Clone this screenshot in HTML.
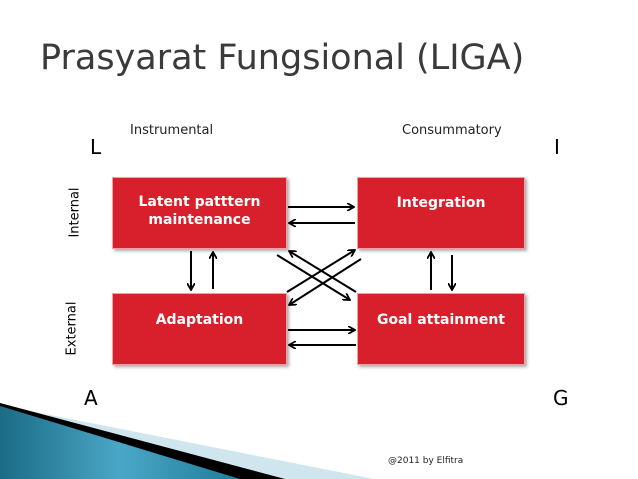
<!DOCTYPE html>
<html><head><style>
body{margin:0;width:638px;height:479px;background:#fff;position:relative;overflow:hidden;font-family:"DejaVu Sans","Liberation Sans",sans-serif}
.t{position:absolute;white-space:nowrap}
.box{position:absolute;background:#d7202c;border:1px solid #f2a0a0;box-shadow:2px 2px 3px #aaa;color:#fff;font-weight:bold;font-size:14px;text-align:center;line-height:18px;box-sizing:border-box;padding-top:16px}
</style></head><body>
<div class="t" style="left:40px;top:38px;font-size:35px;color:#3a3a3a">Prasyarat Fungsional (LIGA)</div>
<div class="t" style="left:130px;top:123px;font-size:13px;color:#222">Instrumental</div>
<div class="t" style="left:402px;top:123px;font-size:13px;color:#222">Consummatory</div>
<div class="t" style="left:90px;top:135px;font-size:20px">L</div>
<div class="t" style="left:554px;top:135px;font-size:20px">I</div>
<div class="t" style="left:84px;top:386px;font-size:20px">A</div>
<div class="t" style="left:553px;top:386px;font-size:20px">G</div>
<div class="t" style="left:50px;top:205px;font-size:13px;transform:rotate(-90deg)">Internal</div>
<div class="t" style="left:45px;top:321px;font-size:13px;transform:rotate(-90deg)">External</div>
<div class="box" style="left:112px;top:177px;width:175px;height:72px;padding-top:15px">Latent patttern<br>maintenance</div>
<div class="box" style="left:357px;top:177px;width:168px;height:72px">Integration</div>
<div class="box" style="left:112px;top:293px;width:175px;height:72px;padding-top:17px">Adaptation</div>
<div class="box" style="left:357px;top:293px;width:168px;height:72px;padding-top:17px">Goal attainment</div>
<svg width="638" height="479" style="position:absolute;left:0;top:0">
<defs><marker id="a" markerWidth="8" markerHeight="8" refX="7" refY="4" orient="auto" markerUnits="userSpaceOnUse"><path d="M0,0 L7,4 L0,8" fill="none" stroke="#000" stroke-width="1.8"/></marker>
<linearGradient id="g" x1="0" y1="0" x2="1" y2="0"><stop offset="0" stop-color="#1b6b85"/><stop offset=".5" stop-color="#4aa7c6"/><stop offset="1" stop-color="#1e7d9a"/></linearGradient></defs>
<g stroke="#000" stroke-width="2" marker-end="url(#a)">
<line x1="288" y1="207" x2="354" y2="207"/><line x1="355" y1="223" x2="289" y2="223"/>
<line x1="288" y1="330" x2="355" y2="330"/><line x1="356" y1="345" x2="289" y2="345"/>
<line x1="191" y1="251" x2="191" y2="290"/><line x1="213" y1="289" x2="213" y2="252"/>
<line x1="431" y1="290" x2="431" y2="252"/><line x1="452" y1="255" x2="452" y2="290"/>
<line x1="277" y1="255" x2="350" y2="300"/><line x1="356" y1="292" x2="289" y2="251"/>
<line x1="287" y1="292" x2="355" y2="250"/><line x1="361" y1="259" x2="289" y2="305"/>
</g>
<polygon points="0,405 374,479 0,479" fill="#cfe6ee"/>
<polygon points="0,403 285,479 0,479" fill="#000"/>
<polygon points="0,406 240,479 0,479" fill="url(#g)"/>
</svg>
<div class="t" style="left:388px;top:456px;font-size:9px;color:#222">@2011 by Elfitra</div>
</body></html>
